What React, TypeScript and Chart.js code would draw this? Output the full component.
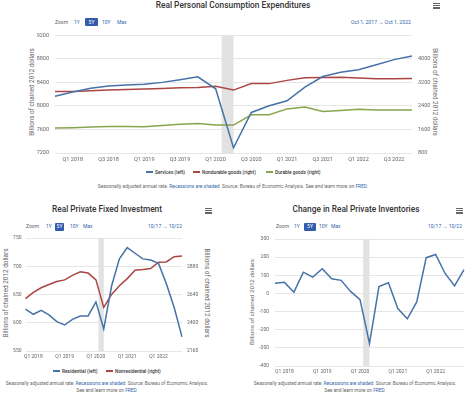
import React, { useEffect, useRef } from "react";
import { Chart, registerables } from "chart.js";

Chart.register(...registerables);

// ---------- DATA ----------
const quarters = [
  "Q4 2017", "Q1 2018", "Q2 2018", "Q3 2018", "Q4 2018",
  "Q1 2019", "Q2 2019", "Q3 2019", "Q4 2019",
  "Q1 2020", "Q2 2020", "Q3 2020", "Q4 2020",
  "Q1 2021", "Q2 2021", "Q3 2021", "Q4 2021",
  "Q1 2022", "Q2 2022", "Q3 2022", "Q4 2022",
];
const pceTickLabels = ["Q1 2018", "Q3 2018", "Q1 2019", "Q3 2019", "Q1 2020", "Q3 2020", "Q1 2021", "Q3 2021", "Q1 2022", "Q3 2022"];
const yearTickLabels = ["Q1 2018", "Q1 2019", "Q1 2020", "Q1 2021", "Q1 2022"];

const services = [8164, 8236, 8302, 8340, 8357, 8368, 8400, 8445, 8495, 8291, 7288, 7889, 8004, 8087, 8320, 8500, 8572, 8616, 8699, 8787, 8847];
const nondurable = [2894, 2894, 2916, 2938, 2960, 2971, 2993, 3015, 3026, 3070, 2938, 3158, 3158, 3268, 3356, 3367, 3378, 3345, 3323, 3323, 3334];
const durable = [1648, 1660, 1682, 1703, 1703, 1692, 1737, 1781, 1803, 1748, 1748, 2100, 2100, 2299, 2365, 2210, 2243, 2288, 2265, 2265, 2265];

const residential = [624, 615, 622, 614, 602, 596, 606, 612, 612, 637, 589, 665, 713, 733, 723, 713, 711, 705, 669, 627, 575];
const nonresidential = [2605, 2658, 2697, 2725, 2750, 2764, 2803, 2833, 2822, 2764, 2530, 2641, 2714, 2775, 2847, 2853, 2861, 2914, 2917, 2961, 2967];

const inventories = [56, 61, 7, 117, 90, 136, 81, 72, 11, -34, -276, 38, 59, -83, -140, -47, 197, 215, 110, 41, 131];

const recessionStart = "2020-02-01";
const recessionEnd = "2020-04-01";

// ---------- STYLE ----------
const BLUE = "#4572a7";
const RED = "#aa4643";
const GREEN = "#89a54e";
const LINK = "#3366aa";
const FONT = "Roboto, 'Noto Sans', sans-serif";

// fractional category index of a date (first category is Oct 1, 2017)
function dateToIndex(d: string) {
  const [y, m, day] = d.split("-").map(Number);
  return (y - 2017) * 4 + (m - 1) / 3 + (day - 1) / 91 - 3;
}

const recessionPlugin = {
  id: "recession",
  beforeDatasetsDraw(chart: any) {
    const x = chart.scales.x;
    const a = chart.chartArea;
    const x0 = x.getPixelForValue(dateToIndex(recessionStart));
    const x1 = x.getPixelForValue(dateToIndex(recessionEnd));
    const ctx = chart.ctx;
    ctx.save();
    ctx.fillStyle = "#e2e2e2";
    ctx.fillRect(x0, a.top, x1 - x0, a.bottom - a.top);
    ctx.restore();
  },
};

const fixW = (w: number) => (s: any) => { s.width = w; };
const fixH = (h: number) => (s: any) => { s.height = h; };

function xScale(labels: string[], size: number, h: number) {
  return {
    type: "category",
    grid: { display: false, drawTicks: false },
    border: { display: false },
    afterFit: fixH(h),
    ticks: {
      autoSkip: false,
      maxRotation: 0,
      padding: 3,
      color: "#666",
      font: { family: FONT, size },
      callback: (_v: any, i: number) => (labels.includes(quarters[i]) ? quarters[i] : null),
    },
  };
}

function yScale(opts: any) {
  const { pos, min, max, step, w, size, pad, grid, hideTop } = opts;
  return {
    position: pos,
    min, max,
    afterFit: fixW(w),
    border: { display: false },
    grid: grid
      ? { color: "#e6e6e6", drawTicks: false, lineWidth: 1 }
      : { display: false, drawTicks: false },
    ticks: {
      stepSize: step,
      padding: pad,
      color: "#666",
      font: { family: FONT, size },
      callback: (v: any) => (hideTop && v === max ? "" : String(v)),
    },
  };
}

function ds(data: number[], color: string, axis: string) {
  return { data, borderColor: color, backgroundColor: color, borderWidth: 1.5, pointRadius: 0, tension: 0, yAxisID: axis, fill: false };
}

function baseOptions(scales: any, padRight = 0) {
  return {
    responsive: false,
    animation: false,
    layout: { autoPadding: false, padding: { top: 6, left: 0, right: padRight, bottom: 0 } },
    plugins: { legend: { display: false }, tooltip: { enabled: false }, title: { display: false } },
    scales,
  };
}

const pceConfig = () => ({
  type: "line",
  data: {
    labels: quarters,
    datasets: [ds(services, BLUE, "y"), ds(nondurable, RED, "y1"), ds(durable, GREEN, "y1")],
  },
  options: baseOptions({
    x: xScale(pceTickLabels, 5.5, 13),
    y: yScale({ pos: "left", min: 7200, max: 9200, step: 400, w: 35, size: 5.5, pad: 6, grid: true }),
    y1: yScale({ pos: "right", min: 800, max: 4800, step: 800, w: 28, size: 5.5, pad: 6, grid: false, hideTop: true }),
  }),
  plugins: [recessionPlugin],
});

const fixedConfig = () => ({
  type: "line",
  data: {
    labels: quarters,
    datasets: [ds(residential, BLUE, "y"), ds(nonresidential, RED, "y1")],
  },
  options: baseOptions({
    x: xScale(yearTickLabels, 5, 11),
    y: yScale({ pos: "left", min: 550, max: 750, step: 50, w: 25.5, size: 5, pad: 4, grid: true }),
    y1: yScale({ pos: "right", min: 2160, max: 3120, step: 240, w: 38, size: 5, pad: 5, grid: false, hideTop: true }),
  }),
  plugins: [recessionPlugin],
});

const invConfig = () => ({
  type: "line",
  data: {
    labels: quarters,
    datasets: [ds(inventories, BLUE, "y")],
  },
  options: baseOptions({
    x: xScale(yearTickLabels, 5, 11),
    y: yScale({ pos: "left", min: -400, max: 300, step: 100, w: 38, size: 5, pad: 6, grid: true }),
  }, 10),
  plugins: [recessionPlugin],
});

// ---------- COMPONENTS ----------
function ChartBox({ left, top, width, height, config }: any) {
  const ref = useRef<HTMLCanvasElement>(null);
  useEffect(() => {
    const chart = new Chart(ref.current as any, config() as any);
    return () => chart.destroy();
  }, []);
  return (
    <canvas
      ref={ref}
      width={width}
      height={height}
      style={{ position: "absolute", left, top, width, height }}
    />
  );
}

function T({ x, y, size, color = "#666", weight = 400, align = "center", children }: any) {
  const lh = Math.ceil(size * 1.4);
  const st: any = {
    position: "absolute",
    top: y - lh / 2,
    height: lh,
    lineHeight: lh + "px",
    fontSize: size + "px",
    color,
    fontWeight: weight,
    whiteSpace: "nowrap",
    fontFamily: FONT,
  };
  if (align === "center") { st.left = x; st.transform = "translateX(-50%)"; }
  else if (align === "left") { st.left = x; }
  else { st.right = 474 - x; }
  return <div style={st}>{children}</div>;
}

function VT({ x, y, size, rot, children }: any) {
  return (
    <div
      style={{
        position: "absolute",
        left: x,
        top: y,
        transform: `translate(-50%,-50%) rotate(${rot}deg)`,
        fontSize: size + "px",
        lineHeight: "1",
        color: "#666",
        whiteSpace: "nowrap",
        fontFamily: FONT,
      }}
    >
      {children}
    </div>
  );
}

function Burger({ x, y }: any) {
  const bar = (dy: number) => (
    <div style={{ position: "absolute", left: 0, top: dy, width: 7, height: 1.2, background: "#666" }} />
  );
  return (
    <div style={{ position: "absolute", left: x, top: y, width: 7, height: 6 }}>
      {bar(0)}{bar(2.2)}{bar(4.4)}
    </div>
  );
}

function ZoomRow({ y, zoomX, y1X, btnX, btnW, y10X, maxX }: any) {
  return (
    <>
      <T x={zoomX} y={y} size={5} align="left" color="#666">Zoom</T>
      <T x={y1X} y={y} size={5} align="left" color={LINK}>1Y</T>
      <div style={{ position: "absolute", left: btnX, top: y - 4, width: btnW, height: 8, background: "#335cad", borderRadius: 1 }} />
      <T x={btnX + btnW / 2} y={y} size={5} color="#fff">5Y</T>
      <T x={y10X} y={y} size={5} align="left" color={LINK}>10Y</T>
      <T x={maxX} y={y} size={5} align="left" color={LINK}>Max</T>
    </>
  );
}

function LegendItem({ x, y, color, children }: any) {
  return (
    <>
      <div style={{ position: "absolute", left: x, top: y - 0.75, width: 7, height: 1.5, background: color }} />
      <T x={x + 9} y={y} size={4.8} align="left" color="#333" weight={500}>{children}</T>
    </>
  );
}

const Src1 = () => (
  <>Seasonally adjusted annual rate. <span style={{ color: LINK }}>Recessions are shaded</span>. Source: Bureau of Economic Analysis.</>
);
const Src2 = () => (
  <>See and learn more on <span style={{ color: LINK }}>FRED</span>.</>
);

export default function App() {
  return (
    <div style={{ position: "fixed", left: 0, top: 0, width: 474, height: 397, overflow: "hidden", background: "#fff" }}>
      {/* ---------- top chart ---------- */}
      <T x={233} y={4.5} size={8.4} color="#333" weight={500}>Real Personal Consumption Expenditures</T>
      <Burger x={433} y={3} />
      <ZoomRow y={22} zoomX={55} y1X={74} btnX={85} btnW={13} y10X={102} maxX={117} />
      <T x={411} y={22} size={5.2} align="right" color={LINK}>Oct 1, 2017 → Oct 1, 2022</T>
      <VT x={32} y={92} size={6.3} rot={-90}>Billions of chained 2012 dollars</VT>
      <VT x={435} y={92} size={6.3} rot={90}>Billions of chained 2012 dollars</VT>
      <ChartBox left={20} top={26} width={420} height={140} config={pceConfig} />
      <LegendItem x={146} y={172} color={BLUE}>Services (left)</LegendItem>
      <LegendItem x={193} y={172} color={RED}>Nondurable goods (right)</LegendItem>
      <LegendItem x={266} y={172} color={GREEN}>Durable goods (right)</LegendItem>
      <T x={233} y={186} size={4.9}><Src1 /> <Src2 /></T>

      {/* ---------- bottom-left chart ---------- */}
      <T x={107} y={208.5} size={8.3} color="#333" weight={500}>Real Private Fixed Investment</T>
      <Burger x={205} y={208} />
      <ZoomRow y={226.5} zoomX={26} y1X={46} btnX={55} btnW={9} y10X={70} maxX={83} />
      <T x={182} y={226.5} size={5} align="right" color={LINK}>10/17 → 10/22</T>
      <VT x={6} y={293} size={6.4} rot={-90}>Billions of chained 2012 dollars</VT>
      <VT x={207} y={293} size={6.4} rot={90}>Billions of chained 2012 dollars</VT>
      <ChartBox left={0} top={230} width={220} height={132} config={fixedConfig} />
      <LegendItem x={53} y={371} color={BLUE}>Residential (left)</LegendItem>
      <LegendItem x={106} y={371} color={RED}>Nonresidential (right)</LegendItem>
      <T x={107} y={383.7} size={4.8}><Src1 /></T>
      <T x={107} y={390.3} size={4.8}><Src2 /></T>

      {/* ---------- bottom-right chart ---------- */}
      <T x={356} y={208.5} size={8.3} color="#333" weight={500}>Change in Real Private Inventories</T>
      <Burger x={456} y={208} />
      <ZoomRow y={226.5} zoomX={276} y1X={294} btnX={304} btnW={12} y10X={319} maxX={331} />
      <T x={462} y={226.5} size={5} align="right" color={LINK}>10/17 → 10/22</T>
      <VT x={252} y={302} size={6.2} rot={-90}>Billions of chained 2012 dollars</VT>
      <ChartBox left={237} top={230} width={237} height={147} config={invConfig} />
      <T x={355} y={383.7} size={4.8}><Src1 /></T>
      <T x={355} y={390.3} size={4.8}><Src2 /></T>
    </div>
  );
}
